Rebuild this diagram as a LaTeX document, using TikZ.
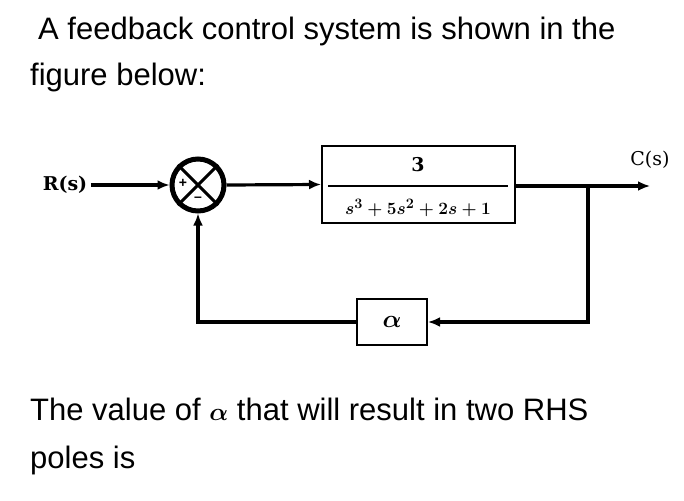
\documentclass[tikz,border=0pt]{standalone}
\usepackage{amsmath,amssymb}
\usepackage{fontspec}
\setmainfont{Liberation Sans}
\newfontfamily\dfont{DejaVu Serif}
\usetikzlibrary{arrows.meta}
\begin{document}
\begin{tikzpicture}[x=1pt,y=-1pt,
  ln/.style={line width=3.2pt},
  arr/.style={ln,-{Latex[length=12pt,width=10pt]}},
  blk/.style={draw,line width=2pt,inner sep=0pt},
  ttl/.style={anchor=base west,inner sep=0pt,font=\fontsize{31}{34}\selectfont},
  dl/.style={font=\dfont\bfseries\fontsize{19}{21}\selectfont}]
\useasboundingbox (0,0) rectangle (684,500);
\node[ttl] (t1) at (38,40) {A feedback control system is shown in the};
\node[ttl] (t2) at (30,86) {figure below:};
\node[ttl] (t3) at (30,420) {The value of $\boldsymbol{\alpha}$ that will result in two RHS};
\node[ttl] (t4) at (30,468) {poles is};
\node[dl] (r) at (65,185) {R(s)};
\node[draw,circle,line width=5pt,minimum size=52pt,inner sep=0pt] (sum) at (198,185) {};
\draw[line width=3pt] (sum.45)--(sum.225) (sum.135)--(sum.315);
\node[font=\bfseries\fontsize{14}{14}\selectfont] (pl) at (183,183) {+};
\node[font=\bfseries\fontsize{14}{14}\selectfont] (mi) at (198,199) {--};
\node[blk,minimum width=193pt,minimum height=77pt] (g) at (418.5,184.5) {};
\node[dl] (num) at (418,165) {3};
\node[dl] (den) at (418,208) {$\boldsymbol{s^3+5s^2+2s+1}$};
\draw[line width=1.8pt] (328,186)--(508,186);
\node[blk,minimum width=70pt,minimum height=46pt,font=\fontsize{24}{26}\selectfont] (a) at (392,322) {$\boldsymbol{\alpha}$};
\node[dl,font=\dfont\fontsize{19}{21}\selectfont] (c) at (650,160) {C(s)};
\coordinate (o) at (650,186);
\coordinate (br) at (588,186);
\draw[arr] (r.east) -- (sum.west);
\draw[arr] (sum.east) -- (g.west);
\draw[arr] (g.east|-br) -- (o);
\draw[arr] (br) |- (a.east);
\draw[arr] (a.west) -| (sum.south);
\end{tikzpicture}
\end{document}
